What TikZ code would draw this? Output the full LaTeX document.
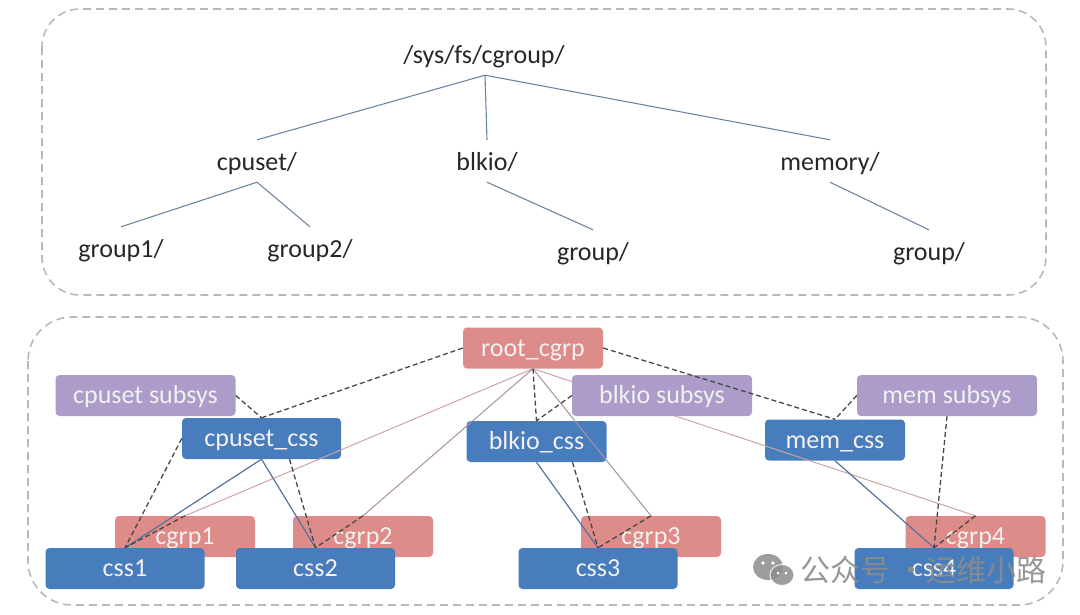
\documentclass[tikz,border=0pt]{standalone}
\usepackage{fontspec}
\setmainfont{Carlito}
\newfontfamily\cjkfont{Noto Sans CJK SC}
\usetikzlibrary{calc}
\definecolor{rootred}{HTML}{DE8C8A}
\definecolor{subpurple}{HTML}{AC9CC9}
\definecolor{cssblue}{HTML}{487DBD}
\definecolor{frameg}{HTML}{B8B8B8}
\definecolor{treeline}{HTML}{6F84A3}
\definecolor{pinkline}{HTML}{CFA3A3}
\definecolor{mauveline}{HTML}{A98FA8}
\definecolor{slateline}{HTML}{56719B}
\definecolor{darkdash}{HTML}{484848}
\definecolor{boxtext}{HTML}{F4F0F0}
\definecolor{marktext}{HTML}{8C8C8C}
\tikzset{
  framebox/.style={draw=frameg,line width=1.6pt,dash pattern=on 8pt off 5pt,rounded corners=38pt},
  treelabel/.style={inner sep=0pt,minimum height=42pt,text height=20pt,text depth=2pt,text=black!85,font=\fontsize{26}{28}\selectfont},
  treelink/.style={draw=treeline,line width=1.1pt},
  boxbase/.style={rounded corners=4pt,inner sep=0pt,minimum height=41pt,text height=16pt,text depth=0pt,text=boxtext,font=\fontsize{26}{28}\selectfont},
  rootbox/.style={boxbase,fill=rootred,minimum width=140pt},
  subbox/.style={boxbase,fill=subpurple,minimum width=180pt},
  cssbox/.style={boxbase,fill=cssblue,minimum width=159pt},
  blkbox/.style={boxbase,fill=cssblue,minimum width=140pt},
  pinklink/.style={draw=pinkline,line width=1pt},
  mauvelink/.style={draw=mauveline,line width=1pt},
  slatelink/.style={draw=slateline,line width=1.2pt},
  dashlink/.style={draw=darkdash,line width=1.3pt,dash pattern=on 5pt off 3pt},
}
\begin{document}
\begin{tikzpicture}[x=1pt,y=-1pt]
\useasboundingbox (0,0) rectangle (1080,614);
% frames
\draw[framebox] (42,9) rectangle (1046,295);
\draw[framebox,rounded corners=44pt] (28,317) rectangle (1063,605);
% directory tree
\node[treelabel] (sysroot) at (484,54) {/sys/fs/cgroup/};
\node[treelabel] (dcpu) at (257,161) {cpuset/};
\node[treelabel] (dblk) at (487,161) {blkio/};
\node[treelabel] (dmem) at (830,161) {memory/};
\node[treelabel] (g1) at (121,248) {group1/};
\node[treelabel] (g2) at (310,248) {group2/};
\node[treelabel] (g3) at (593,251) {group/};
\node[treelabel] (g4) at (929,251) {group/};
\draw[treelink] ([xshift=1pt]sysroot.south) -- (dcpu.north);
\draw[treelink] ([xshift=1pt]sysroot.south) -- (dblk.north);
\draw[treelink] ([xshift=1pt]sysroot.south) -- (dmem.north);
\draw[treelink] (dcpu.south) -- (g1.north);
\draw[treelink] (dcpu.south) -- (g2.north);
\draw[treelink] (dblk.south) -- (g3.north);
\draw[treelink] (dmem.south) -- (g4.north);
% cgroup boxes
\node[rootbox] (cg1) at (185,536.5) {cgrp1};
\node[rootbox] (cg2) at (363,536.5) {cgrp2};
\node[rootbox] (cg3) at (651,536.5) {cgrp3};
\node[rootbox] (cg4) at (975.5,536.5) {cgrp4};
\node[cssbox] (css1) at (125,568.5) {css1};
\node[cssbox] (css2) at (315.5,568.5) {css2};
\node[cssbox] (css3) at (598,568.5) {css3};
\node[cssbox] (css4) at (934,568.5) {css4};
\node[cssbox] (ccss) at (261.5,438.5) {cpuset\_css};
\node[blkbox] (bcss) at (536.5,441.5) {blkio\_css};
\node[blkbox] (mcss) at (835,440) {mem\_css};
\node[rootbox] (root) at (533,348) {root\_cgrp};
% root to cgroup links
\draw[pinklink] (root.south) -- (cg1.north);
\draw[mauvelink] (root.south) -- (cg2.north);
\draw[mauvelink] (root.south) -- (cg3.north);
\draw[pinklink] (root.south) -- (cg4.north);
% subsystem boxes
\node[subbox] (scpu) at (145.5,395.5) {cpuset subsys};
\node[subbox] (sblk) at (662,395.5) {blkio subsys};
\node[subbox] (smem) at (947,395.5) {mem subsys};
% css hierarchy
\draw[slatelink] (ccss.south) -- (css1.north);
\draw[slatelink] (ccss.south) -- (css2.north);
\draw[slatelink] (bcss.south) -- (css3.north);
\draw[slatelink] (mcss.south) -- (css4.north);
% dashed links
\draw[dashlink] (root.west) -- (ccss.north);
\draw[dashlink] (root.east) -- (mcss.north);
\draw[dashlink] (root.south) -- (bcss.north);
\draw[dashlink] (scpu.east) -- (ccss.north);
\draw[dashlink] (sblk.west) -- (bcss.north);
\draw[dashlink] (smem.west) -- (mcss.north);
\draw[dashlink] (ccss.west) -- (css1.north);
\draw[dashlink] ([xshift=28pt]ccss.south) -- (css2.north);
\draw[dashlink] ([xshift=36pt]bcss.south) -- (css3.north);
\draw[dashlink] (smem.south) -- (css4.north);
\draw[dashlink] (cg1.north) -- (css1.north);
\draw[dashlink] (cg2.north) -- (css2.north);
\draw[dashlink] (cg3.north) -- (css3.north);
\draw[dashlink] (cg4.north) -- (css4.north);
% watermark
\fill[marktext,opacity=.85] (768,567) ellipse (15pt and 13pt);
\fill[marktext,opacity=.85,draw=white,line width=1pt] (782,575) ellipse (12pt and 10.5pt);
\fill[white] (763,563) circle (1.8pt) (773,563) circle (1.8pt) (778,573) circle (1.5pt) (786,573) circle (1.5pt);
\node[inner sep=0pt,anchor=west,text=marktext,opacity=.9,font=\cjkfont\fontsize{30}{32}\selectfont] (mark) at (800,570) {公众号 ·运维小路};
\end{tikzpicture}
\end{document}
